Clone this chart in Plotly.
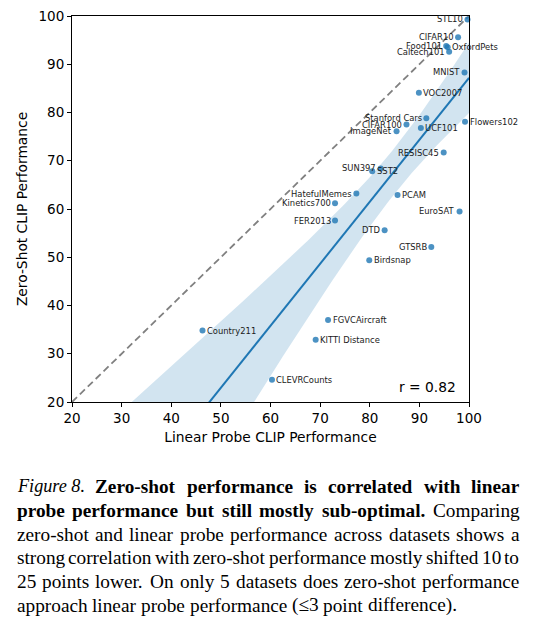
import numpy as np
import plotly.graph_objects as go

datasets = ["STL10", "CIFAR10", "Food101", "OxfordPets", "Caltech101", "MNIST",
            "VOC2007", "Stanford Cars", "CIFAR100", "ImageNet", "UCF101", "Flowers102",
            "RESISC45", "SUN397", "SST2", "HatefulMemes", "Kinetics700", "PCAM",
            "EuroSAT", "FER2013", "DTD", "GTSRB", "Birdsnap", "Country211",
            "FGVCAircraft", "KITTI Distance", "CLEVRCounts"]
linear_probe = [99.7, 97.8, 95.4, 95.7, 96.0, 99.1,
                89.9, 91.4, 87.4, 85.4, 90.3, 99.2,
                94.9, 82.2, 80.5, 77.3, 73.0, 85.6,
                98.1, 73.0, 83.0, 92.4, 79.9, 46.3,
                71.6, 69.1, 60.3]
zero_shot = [99.3, 95.6, 93.8, 93.5, 92.6, 88.3,
             84.1, 78.8, 77.5, 76.1, 76.8, 78.1,
             71.7, 68.4, 67.8, 63.2, 61.2, 62.9,
             59.5, 57.6, 55.6, 52.1, 49.4, 34.8,
             37.0, 32.9, 24.6]
label_side = ["left", "left", "left", "right", "left", "left",
              "right", "left", "left", "left", "right", "right",
              "left", "left", "right", "left", "left", "right",
              "left", "left", "left", "left", "right", "right",
              "right", "right", "right"]
x_ticks = [20, 30, 40, 50, 60, 70, 80, 90, 100]
y_ticks = [20, 30, 40, 50, 60, 70, 80, 90, 100]
r_text = "r = 0.82"

# caption: list of lines, each a list of (word, style); style r=regular, b=bold, i=italic
caption_lines = [
    [("Figure 8.", "i"), ("Zero-shot", "b"), ("performance", "b"), ("is", "b"),
     ("correlated", "b"), ("with", "b"), ("linear", "b")],
    [("probe", "b"), ("performance", "b"), ("but", "b"), ("still", "b"), ("mostly", "b"),
     ("sub-optimal.", "b"), ("Comparing", "r")],
    [(w, "r") for w in "zero-shot and linear probe performance across datasets shows a".split()],
    [(w, "r") for w in "strong correlation with zero-shot performance mostly shifted 10 to".split()],
    [(w, "r") for w in "25 points lower. On only 5 datasets does zero-shot performance".split()],
    [(w, "r") for w in "approach linear probe performance (≤3 point difference).".split()],
]
caption_justify = [True, True, True, True, True, False]

# Times metrics (per 1000 em) used to lay out the justified caption
_reg = {" ": 250, "(": 333, ")": 333, ",": 250, "-": 333, ".": 250, "≤": 549,
        "0": 500, "1": 500, "2": 500, "3": 500, "5": 500, "8": 500,
        "C": 667, "F": 556, "O": 722, "Z": 611,
        "a": 444, "b": 500, "c": 444, "d": 500, "e": 444, "f": 333, "g": 500, "h": 500,
        "i": 278, "j": 278, "k": 500, "l": 278, "m": 778, "n": 500, "o": 500, "p": 500,
        "q": 500, "r": 333, "s": 389, "t": 278, "u": 500, "v": 500, "w": 722, "x": 500,
        "y": 500, "z": 444}
_bold = {" ": 250, "-": 333, ".": 250, "Z": 667, "C": 722,
         "a": 500, "b": 556, "c": 444, "d": 556, "e": 444, "f": 333, "g": 500, "h": 556,
         "i": 278, "l": 278, "m": 833, "n": 556, "o": 500, "p": 556, "r": 444, "s": 389,
         "t": 333, "u": 556, "w": 722, "y": 500}
_ital = {" ": 250, ".": 250, "8": 500, "F": 611, "i": 278, "g": 500, "u": 500, "r": 389,
         "e": 444}

CAP_SIZE = 19.3
ITAL_SIZE = 18.2
CAP_LEFT, CAP_RIGHT = 15.5, 518.5


def word_width(word, style):
    table = {"r": _reg, "b": _bold, "i": _ital}[style]
    size = ITAL_SIZE if style == "i" else CAP_SIZE
    return sum(table.get(ch, 500) for ch in word) / 1000.0 * size


# page body has an 8px margin; lay out in reference pixel coords minus 8
OFF = 8
W, H = 546 - OFF, 626 - OFF
L, R, T, B = 72 - OFF, 469 - OFF, 16 - OFF, 402.5 - OFF

xs = np.array(linear_probe)
ys = np.array(zero_shot)
n = len(xs)
slope, intercept = np.polyfit(xs, ys, 1)
grid = np.linspace(20, 100, 161)
pred = intercept + slope * grid
resid = ys - (intercept + slope * xs)
s = np.sqrt(np.sum(resid ** 2) / (n - 2))
sxx = np.sum((xs - xs.mean()) ** 2)
se = s * np.sqrt(1.0 / n + (grid - xs.mean()) ** 2 / sxx)
tval = 2.06
upper = pred + tval * se
lower = pred - tval * se

blue = "#1f77b4"
sans = "DejaVu Sans"
fig = go.Figure()
fig.add_trace(go.Scatter(x=[20, 100], y=[20, 100], mode="lines",
                         line=dict(color="#808080", width=1.8, dash="7px,4px"),
                         hoverinfo="skip", showlegend=False))
fig.add_trace(go.Scatter(x=np.concatenate([grid, grid[::-1]]),
                         y=np.concatenate([upper, lower[::-1]]),
                         fill="toself", fillcolor="rgba(31,119,180,0.2)",
                         line=dict(width=0), mode="lines",
                         hoverinfo="skip", showlegend=False))
fig.add_trace(go.Scatter(x=grid, y=pred, mode="lines",
                         line=dict(color=blue, width=2),
                         hoverinfo="skip", showlegend=False))
fig.add_trace(go.Scatter(x=xs, y=ys, mode="markers",
                         marker=dict(color="rgba(31,119,180,0.8)", size=6, line=dict(width=0)),
                         cliponaxis=False, showlegend=False))

ann = []
for name, x, y, side in zip(datasets, linear_probe, zero_shot, label_side):
    ann.append(dict(x=x, y=y, xref="x", yref="y", text=name, showarrow=False,
                    xanchor="right" if side == "left" else "left",
                    yanchor="middle", xshift=-2.5 if side == "left" else 2.5,
                    font=dict(family=sans, size=8.4, color="#1a1a1a")))

ann.append(dict(x=0.9715, y=0.04, xref="paper", yref="paper", text=r_text,
                showarrow=False, xanchor="right", yanchor="middle",
                font=dict(family=sans, size=13.8, color="black")))


def px(xp):
    return (xp - OFF - L) / (R - L)


def py(yp):
    return (B - (yp - OFF)) / (B - T)


line_y = [487, 511, 535, 558.5, 582.5, 606]

for words, justify, ly in zip(caption_lines, caption_justify, line_y):
    widths = [word_width(w, st) for w, st in words]
    if justify:
        gap = (CAP_RIGHT - CAP_LEFT - sum(widths)) / (len(words) - 1)
    else:
        gap = 0.25 * CAP_SIZE
    xcur = CAP_LEFT
    for (w, st), wd in zip(words, widths):
        txt = {"r": w, "b": "<b>" + w + "</b>", "i": "<i>" + w + "</i>"}[st]
        size = ITAL_SIZE if st == "i" else CAP_SIZE
        ann.append(dict(x=px(xcur), y=py(ly), xref="paper", yref="paper", text=txt,
                        showarrow=False, xanchor="left", yanchor="middle",
                        xshift=-1,
                        font=dict(family="Liberation Serif", size=size, color="black")))
        xcur += wd + gap

axis_common = dict(range=[20, 100], showgrid=False, zeroline=False, showline=True,
                   linecolor="black", linewidth=1, mirror=True, ticks="outside",
                   ticklen=4, tickwidth=1, tickcolor="black", ticklabeloverflow="allow",
                   automargin=False,
                   tickfont=dict(family=sans, size=13.5, color="black"))
fig.update_layout(
    width=W, height=H,
    margin=dict(l=L, r=W - R, t=T, b=H - B),
    paper_bgcolor="white", plot_bgcolor="white",
    xaxis=dict(**axis_common, tickvals=x_ticks,
               title=dict(text="Linear Probe CLIP Performance", standoff=7,
                          font=dict(family=sans, size=13.8, color="black"))),
    yaxis=dict(**axis_common, tickvals=y_ticks,
               title=dict(text="Zero-Shot CLIP Performance", standoff=7,
                          font=dict(family=sans, size=13.8, color="black"))),
    annotations=ann,
    showlegend=False,
)
fig.write_html("out.html")
